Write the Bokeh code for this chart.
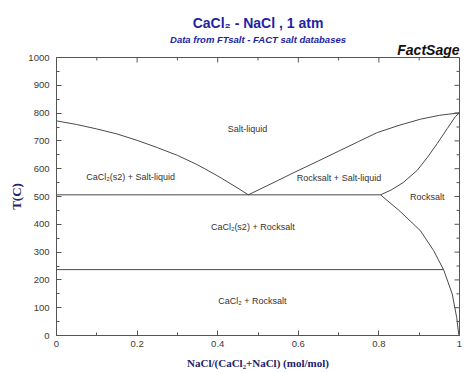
import math
from bokeh.plotting import figure
from bokeh.models import FixedTicker, Title, ColumnDataSource, Range1d
from bokeh.core.properties import value
from bokeh.embed import file_html
from bokeh.resources import INLINE

# ---- data ----
liq_left_x = [0.0, 0.05, 0.10, 0.15, 0.20, 0.25, 0.30, 0.35, 0.40, 0.45, 0.476]
liq_left_T = [772, 759, 743, 725, 702, 676, 648, 614, 574, 530, 506]

liq_right_x = [0.476, 0.52, 0.55, 0.589, 0.65, 0.70, 0.75, 0.796, 0.85, 0.903, 0.95, 1.0]
liq_right_T = [506, 537, 558, 586, 628, 663, 698, 730, 756, 778, 792, 801]

solidus_x = [0.804, 0.83, 0.86, 0.895, 0.92, 0.945, 0.97, 0.99, 1.0]
solidus_T = [506, 523, 550, 594, 640, 691, 745, 788, 801]

solvus_x = [0.804, 0.85, 0.903, 0.936, 0.961, 0.982, 0.993, 0.998, 1.0]
solvus_T = [506, 450, 377, 305, 235, 149, 65, 5, 0]

eutectic_x = [0.0, 0.804]
eutectic_T = [506, 506]

eutectoid_x = [0.0, 0.961]
eutectoid_T = [237, 237]

region_names = ["Salt-liquid", "CaCl\u2082(s2) + Salt-liquid", "Rocksalt + Salt-liquid",
                "Rocksalt", "CaCl\u2082(s2) + Rocksalt", "CaCl\u2082 + Rocksalt"]
region_x = [0.474, 0.184, 0.701, 0.92, 0.487, 0.486]
region_T = [743, 571, 566, 500, 391, 125]

x_ticks = [0, 0.2, 0.4, 0.6, 0.8, 1.0]
x_tick_labels = ["0", "0.2", "0.4", "0.6", "0.8", "1"]
x_minor = [0.1, 0.3, 0.5, 0.7, 0.9]
y_ticks = [0, 100, 200, 300, 400, 500, 600, 700, 800, 900, 1000]
y_minor = [50, 150, 250, 350, 450, 550, 650, 750, 850, 950]

X_MAX = 1.0
T_MAX = 1000

LINE = "#4a4a4a"
AXC = "#555555"
TXT = "#333333"

p = figure(width=474, height=373, output_backend="svg", toolbar_location=None,
           x_range=Range1d(0, X_MAX), y_range=Range1d(0, T_MAX),
           min_border_left=56, min_border_right=15, min_border_top=57, min_border_bottom=38,
           x_axis_label="NaCl/(CaCl\u2082+NaCl) (mol/mol)", y_axis_label="T(C)")
p.grid.visible = False
p.outline_line_color = AXC
p.outline_line_width = 1
p.background_fill_color = "white"
p.border_fill_color = "white"

xt = FixedTicker(ticks=x_ticks, minor_ticks=x_minor)
yt = FixedTicker(ticks=y_ticks, minor_ticks=y_minor)

def style(ax):
    ax.major_tick_in = 5
    ax.major_tick_out = 0
    ax.minor_tick_in = 3
    ax.minor_tick_out = 0
    ax.axis_line_color = AXC
    ax.major_tick_line_color = AXC
    ax.minor_tick_line_color = AXC
    ax.major_label_text_font = "Liberation Sans"
    ax.major_label_text_font_size = "9.5px"
    ax.major_label_text_color = "#3a3a3a"
    ax.axis_label_text_font = "Liberation Serif"
    ax.axis_label_text_font_style = "bold"
    ax.axis_label_text_color = "#23236b"

for ax in p.xaxis:
    ax.ticker = xt
    ax.major_label_overrides = {t: l for t, l in zip(x_ticks, x_tick_labels)}
    style(ax)
    ax.major_label_standoff = 5
    ax.axis_label_standoff = 7
    ax.axis_label_text_font_size = "11px"
for ax in p.yaxis:
    ax.ticker = yt
    style(ax)
    ax.major_label_standoff = 7
    ax.axis_label_standoff = 1
    ax.axis_label_text_font_size = "13px"

# inward ticks on the right and top edges of the frame
p.ray(x=[X_MAX] * len(y_ticks), y=y_ticks, length=5, length_units="screen",
      angle=math.pi, line_color=AXC, line_width=1)
p.ray(x=[X_MAX] * len(y_minor), y=y_minor, length=3, length_units="screen",
      angle=math.pi, line_color=AXC, line_width=1)
p.ray(x=x_ticks, y=[T_MAX] * len(x_ticks), length=5, length_units="screen",
      angle=-math.pi / 2, line_color=AXC, line_width=1)
p.ray(x=x_minor, y=[T_MAX] * len(x_minor), length=3, length_units="screen",
      angle=-math.pi / 2, line_color=AXC, line_width=1)

for xs, ts in [(liq_left_x, liq_left_T), (liq_right_x, liq_right_T),
               (solidus_x, solidus_T), (solvus_x, solvus_T),
               (eutectic_x, eutectic_T), (eutectoid_x, eutectoid_T)]:
    p.line(xs, ts, line_color=LINE, line_width=1)

src = ColumnDataSource(dict(x=region_x, y=region_T, t=region_names))
p.text(x="x", y="y", text="t", source=src, text_font=value("Liberation Sans"),
       text_font_size="9px", text_color=TXT, text_align="center", text_baseline="middle")

# main title (outermost)
p.title.text = "CaCl\u2082 - NaCl , 1 atm"
p.title.align = "center"
p.title.vertical_align = "bottom"
p.title.text_font = "Liberation Sans"
p.title.text_font_size = "14px"
p.title.text_font_style = "bold"
p.title.text_color = "#1f1fa8"
p.title.standoff = 14

# nearest the frame first
p.add_layout(Title(text="FactSage", align="right", vertical_align="bottom",
                   text_font="Liberation Sans", text_font_size="14px",
                   text_font_style="bold italic", text_color="#111111",
                   standoff=0), "above")
p.add_layout(Title(text="Data from FTsalt - FACT salt databases", align="center",
                   vertical_align="bottom", text_font="Liberation Sans",
                   text_font_size="9.5px", text_font_style="bold italic",
                   text_color="#2323a0", standoff=-11), "above")

open("out.html", "w").write(file_html(p, INLINE))
